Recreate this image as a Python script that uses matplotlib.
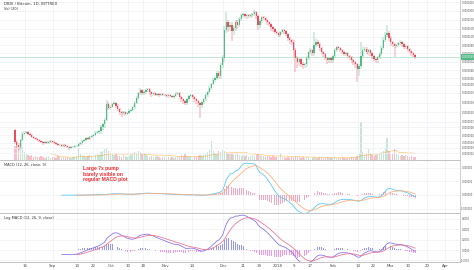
import matplotlib
matplotlib.use('Agg')
import matplotlib.pyplot as plt
import matplotlib.transforms as mtransforms
from matplotlib.ticker import FixedLocator, NullLocator, MaxNLocator, FuncFormatter
import numpy as np
import pandas as pd

# daily closes in satoshi
closes = [
    36.6, 33, 31, 39, 48, 50, 51, 48, 46, 43,
    42, 40.5, 39, 38, 37, 35, 36.6, 35.4, 36.6, 38,
    36.6, 35.4, 34.3, 33, 33, 32, 33, 32, 31, 30,
    31, 31, 32, 32, 34.3, 35.4, 38, 39, 42, 40.5,
    43, 45, 46, 50, 51, 53, 61, 67, 77, 131,
    115, 119, 131, 136, 123, 111, 100, 97, 100, 94,
    97, 104, 107, 119, 136, 161, 190, 210, 190, 196,
    210, 217, 196, 184, 190, 178, 184, 178, 184, 178,
    178, 172, 178, 172, 166, 172, 184, 190, 166, 155,
    145, 136, 155, 172, 178, 166, 155, 145, 136, 127,
    140, 155, 178, 196, 224, 257, 294, 314, 372, 335,
    486, 614, 1572, 2058, 1739, 1860, 1520, 1682, 2058, 1860,
    2270, 2600, 2690, 2510, 2600, 2510, 2600, 2690, 2880, 2510,
    1860, 2130, 2432, 2351, 2198, 2058, 1925, 1739, 1625, 1470,
    1421, 1330, 1470, 1572, 1520, 1375, 1205, 1126, 1050, 804,
    614, 540, 594, 502, 486, 502, 614, 751, 804, 726,
    951, 1050, 984, 860, 751, 702, 614, 574, 614, 574,
    657, 804, 889, 860, 804, 751, 702, 726, 657, 636,
    574, 540, 502, 425, 470, 657, 804, 830, 751, 804,
    726, 657, 594, 574, 636, 702, 860, 1126, 1330, 1421,
    1205, 1050, 984, 920, 951, 1017, 1050, 984, 889, 920,
    830, 777, 726, 680, 636,
]
first_open = 54.8

# wick lengths beyond the body, percent
hi_pct = [
    5, 8, 6, 4, 6, 5, 3, 4, 3, 4,
    3, 4, 3, 5, 3, 4, 3, 4, 5, 3,
    3, 4, 3, 3, 4, 3, 3, 4, 3, 3,
    4, 3, 4, 3, 5, 4, 3, 4, 5, 4,
    4, 3, 4, 5, 3, 4, 5, 4, 6, 15,
    6, 5, 4, 6, 4, 5, 3, 4, 5, 3,
    4, 5, 4, 6, 5, 6, 5, 6, 4, 5,
    6, 4, 3, 4, 5, 3, 4, 3, 4, 3,
    4, 3, 4, 3, 4, 3, 5, 4, 3, 4,
    3, 4, 5, 4, 3, 4, 3, 4, 3, 4,
    5, 4, 5, 4, 6, 5, 6, 5, 7, 6,
    8, 10, 15, 40, 8, 10, 9, 7, 8, 6,
    6, 5, 4, 5, 4, 5, 4, 3, 5, 4,
    6, 5, 4, 5, 4, 3, 4, 5, 4, 3,
    4, 5, 4, 5, 4, 3, 4, 3, 4, 6,
    8, 6, 5, 4, 6, 5, 6, 5, 7, 5,
    55, 10, 6, 5, 4, 5, 4, 5, 4, 3,
    5, 6, 5, 4, 3, 4, 5, 4, 3, 4,
    3, 4, 3, 5, 6, 60, 10, 8, 6, 5,
    4, 5, 4, 3, 5, 6, 8, 10, 12, 30,
    8, 6, 5, 4, 5, 4, 6, 4, 3, 4,
    3, 4, 3, 4, 3,
]
lo_pct = [
    6, 8, 10, 5, 4, 3, 4, 3, 4, 3,
    4, 3, 4, 3, 4, 5, 3, 4, 3, 4,
    3, 4, 3, 4, 3, 4, 3, 3, 4, 5,
    3, 4, 3, 4, 3, 4, 5, 4, 3, 4,
    3, 4, 3, 4, 5, 6, 8, 10, 12, 5,
    8, 6, 5, 4, 6, 8, 10, 12, 6, 8,
    5, 4, 5, 4, 6, 5, 6, 5, 7, 6,
    5, 6, 8, 10, 6, 5, 4, 6, 5, 4,
    5, 4, 6, 5, 4, 5, 4, 5, 6, 8,
    10, 8, 6, 5, 4, 6, 8, 10, 12, 35,
    10, 6, 5, 6, 5, 6, 5, 8, 6, 10,
    8, 10, 12, 10, 15, 12, 28, 12, 10, 12,
    8, 6, 5, 6, 8, 6, 7, 6, 5, 10,
    15, 10, 8, 7, 6, 10, 8, 12, 10, 8,
    7, 8, 6, 8, 10, 8, 10, 12, 10, 20,
    38, 20, 12, 10, 12, 10, 8, 6, 8, 10,
    8, 6, 8, 10, 8, 10, 8, 12, 8, 10,
    8, 6, 5, 8, 6, 8, 6, 5, 8, 10,
    8, 10, 12, 35, 20, 10, 8, 6, 8, 10,
    8, 10, 8, 10, 8, 6, 5, 6, 8, 6,
    10, 12, 10, 30, 8, 6, 8, 10, 8, 6,
    8, 6, 8, 6, 8,
]

volumes = [
    14, 17, 12, 15, 13, 8, 6, 5, 4, 5,
    3, 4, 3, 3, 4, 3, 2, 3, 4, 2,
    3, 3, 2, 4, 3, 2, 3, 2, 3, 2,
    2, 3, 3, 4, 12, 6, 5, 4, 3, 4,
    5, 4, 3, 5, 6, 5, 8, 9, 11, 12,
    9, 7, 6, 5, 6, 4, 4, 3, 5, 4,
    3, 4, 5, 6, 8, 7, 9, 8, 6, 7,
    5, 4, 3, 4, 3, 3, 4, 3, 2, 3,
    3, 4, 3, 2, 3, 2, 3, 4, 3, 5,
    4, 6, 4, 3, 4, 3, 4, 3, 4, 5,
    4, 5, 6, 8, 10, 19, 9, 7, 6, 9,
    8, 10, 9, 8, 7, 6, 7, 5, 6, 7,
    5, 4, 5, 4, 5, 3, 4, 5, 4, 5,
    6, 5, 4, 4, 3, 4, 4, 3, 4, 3,
    3, 4, 6, 3, 3, 2, 3, 2, 3, 3,
    4, 3, 3, 2, 3, 2, 3, 3, 2, 2,
    3, 2, 2, 3, 2, 2, 2, 3, 2, 2,
    2, 3, 2, 2, 2, 3, 2, 2, 2, 2,
    3, 3, 2, 4, 6, 38, 8, 5, 6, 11,
    7, 5, 4, 5, 6, 7, 8, 9, 12, 22,
    9, 7, 6, 11, 6, 5, 4, 5, 4, 5,
    4, 3, 4, 3, 3,
]

price_ticks = [4000, 3000, 2200, 1650, 1250, 950, 720, 540, 410, 310,
               250, 190, 136, 100, 72, 60, 46, 36, 30, 25]

date_pos = [5.3, 20.3, 33.2, 41.7, 51.3, 60.4, 68.4, 80.7, 94.6, 111.2, 121.9,
            130.5, 140.6, 149.2, 157.8, 170.1, 183.4, 191.4, 200.5, 210.2, 220.3, 229.9]
date_labels = ['16', 'Sep', '14', '22', 'Oct', '10', '18', 'Nov', '14', 'Dec', '11',
               '19', '2018', '9', '17', 'Feb', '14', '22', 'Mar', '10', '20', 'Apr']

title_text = 'DBIX / Bitcoin, 1D, BITTREX'
vol_text = 'Vol (20)'
macd_text = 'MACD (12, 26, close, 9)'
logmacd_text = 'Log MACD (12, 26, 9, close)'
note_text = 'Large 7x pump\nbarely visible on\nregular MACD plot'

SAT = 1e-8
UP = '#53b987'
DN = '#eb4d5c'
GRID = '#eef0f4'
TXT = '#4a4a4a'
SMALL = ['Liberation Sans', 'DejaVu Sans']


def ema(values, span):
    # exponential average seeded with a simple average, as the charting site does
    values = np.asarray(values, dtype=float)
    out = np.full(len(values), np.nan)
    start = np.argmax(~np.isnan(values))
    seed = start + span - 1
    out[seed] = np.mean(values[start:seed + 1])
    a = 2 / (span + 1)
    for i in range(seed + 1, len(values)):
        out[i] = a * values[i] + (1 - a) * out[i - 1]
    return out


close = np.array(closes) * SAT
opn = np.concatenate([[first_open * SAT], close[:-1]])
high = np.maximum(opn, close) * (1 + np.array(hi_pct) / 100)
low = np.minimum(opn, close) * (1 - np.array(lo_pct) / 100)
vol = np.array(volumes, dtype=float)
n = len(close)
x = np.arange(n)
up = close >= opn
col = np.where(up, UP, DN)

macd = ema(close, 12) - ema(close, 26)
sig = ema(macd, 9)
hist = macd - sig
lc = np.log(close)
lmacd = ema(lc, 12) - ema(lc, 26)
lsig = ema(lmacd, 9)
lhist = lmacd - lsig
volma = pd.Series(vol).rolling(20).mean().values

W, H = 474, 270
fig = plt.figure(figsize=(W / 100, H / 100), dpi=100)
fig.patch.set_facecolor('white')
right = 460 / W
ax1 = fig.add_axes([0, 1 - 160 / H, right, 160 / H])
ax2 = fig.add_axes([0, 1 - 213 / H, right, 52 / H])
ax3 = fig.add_axes([0, 1 - 262 / H, right, 48 / H])
ax1.set_yscale('log')
ax1.set_ylim(20.05 * SAT, 4300 * SAT)

xlim = (-8.0, 238.0)

# volume underneath the candles (twinx first: it moves ax1's ticks to the left)
axv = ax1.twinx()
axv.set_xlim(*xlim)
axv.bar(x, vol, width=0.7, color=col, alpha=0.35, lw=0)
axv.plot(x, volma, color='#ff9800', lw=0.5, alpha=0.55)
axv.set_ylim(0, 162)
axv.axis('off')
ax1.set_zorder(axv.get_zorder() + 1)
ax1.patch.set_visible(False)

for ax in (ax1, ax2, ax3):
    ax.set_xlim(*xlim)
    for sp in ('left', 'top'):
        ax.spines[sp].set_visible(False)
    ax.spines['right'].set_visible(True)
    ax.spines['right'].set_color('#c8c8c8')
    ax.spines['bottom'].set_color('#b8b8b8')
    for sp in ('right', 'bottom'):
        ax.spines[sp].set_linewidth(0.6)
    ax.yaxis.tick_right()
    ax.tick_params(axis='y', length=0, pad=1.0, labelsize=1.8, labelcolor=TXT)
    ax.tick_params(axis='x', length=0, pad=1.5, labelsize=2.8, labelcolor=TXT)
    ax.xaxis.set_major_locator(FixedLocator(date_pos))
    ax.grid(True, color=GRID, lw=0.5)
    ax.set_axisbelow(True)
ax1.set_xticklabels([])
ax2.set_xticklabels([])
ax3.set_xticklabels(date_labels)

# candles
ax1.vlines(x, low, high, colors=col, lw=0.35)
ax1.bar(x, np.abs(close - opn), bottom=np.minimum(opn, close), width=0.7, color=col, lw=0)
ax1.yaxis.set_major_locator(FixedLocator([p * SAT for p in price_ticks]))
ax1.yaxis.set_minor_locator(NullLocator())
ax1.yaxis.set_major_formatter(FuncFormatter(lambda v, _: f'{v:.8f}'))
ax1.axhline(close[-1], color=UP, lw=0.4, alpha=0.6)
blend = mtransforms.blended_transform_factory(ax1.transAxes, ax1.transData)
ax1.text(1.003, close[-1], f'{close[-1]:.8f}', transform=blend, fontsize=1.8, color='white',
         family=SMALL, va='center', ha='left', clip_on=False,
         bbox=dict(boxstyle='square,pad=0.3', fc=UP, ec='none'))
ax1.text(0.008, 0.985, title_text, transform=ax1.transAxes, fontsize=2.8, color='#333333', va='top')
ax1.text(0.008, 0.955, vol_text, transform=ax1.transAxes, fontsize=2.6, color='#333333', va='top')

# regular MACD
ax2.bar(x, hist, width=0.45, color='#f48fb1', alpha=0.8, lw=0)
ax2.plot(x, macd, color='#4fc3f7', lw=0.55)
ax2.plot(x, sig, color='#ffab76', lw=0.55)
top = np.nanmax(macd) / 0.94
ax2.set_ylim(-top * 18 / 34, top)
ax2.yaxis.set_major_locator(MaxNLocator(4))
ax2.yaxis.set_major_formatter(FuncFormatter(lambda v, _: f'{v:.6f}'))
ax2.text(0.008, 0.96, macd_text, transform=ax2.transAxes, fontsize=2.6, color='#333333', va='top')
ax2.text(36.4, 0.9, note_text, transform=mtransforms.blended_transform_factory(ax2.transData, ax2.transAxes),
         fontsize=3.6, color='#f0282d', fontweight='bold',
         family=SMALL, va='top', ha='left', linespacing=1.15)

# log MACD
ax3.bar(x, lhist, width=0.45, color=np.where(lhist >= 0, '#7c7cf5', '#f07ce6'), alpha=0.8, lw=0)
ax3.plot(x, lmacd, color='#7f6ee8', lw=0.55)
ax3.plot(x, lsig, color='#ec6f8e', lw=0.55)
ltop = np.nanmax(lmacd) / 0.97
ax3.set_ylim(-ltop * 12 / 36, ltop)
ax3.yaxis.set_major_locator(MaxNLocator(5))
ax3.yaxis.set_major_formatter(FuncFormatter(lambda v, _: f'{v:.4f}'))
ax3.text(0.008, 0.96, logmacd_text, transform=ax3.transAxes, fontsize=2.6, color='#333333', va='top')

for ax in (ax1, ax2, ax3):
    for lab in ax.get_yticklabels():
        lab.set_family(SMALL)

fig.savefig('out.png', dpi=100, facecolor='white')
